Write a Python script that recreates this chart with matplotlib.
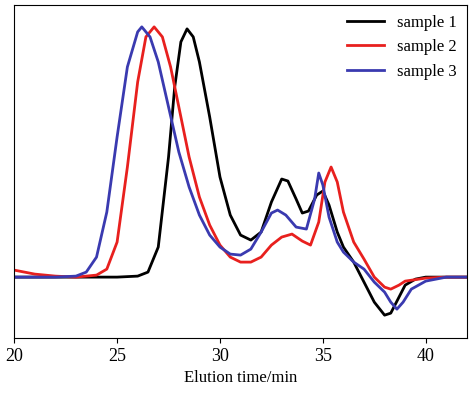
import matplotlib
matplotlib.use("Agg")
import matplotlib.pyplot as plt

x1 = [20,24,25,26,26.5,27,27.5,27.8,28.1,28.4,28.7,29,29.5,30,30.5,31,31.5,32,32.5,33,33.3,33.7,34,34.3,34.7,35,35.3,35.7,36,36.5,37,37.5,38,38.3,38.7,39,39.5,40,42]
y1 = [0,0,0,1,5,30,120,190,235,248,240,215,160,100,62,42,37,45,75,98,96,78,64,66,82,86,72,45,30,15,-5,-25,-38,-36,-20,-8,-2,0,0]
x2 = [20,21,22,23,24,24.5,25,25.5,26,26.4,26.8,27.2,27.6,28,28.5,29,29.5,30,30.5,31,31.5,32,32.5,33,33.5,34,34.4,34.8,35.1,35.4,35.7,36,36.5,37,37.5,38,38.3,38.7,39,40,41,42]
y2 = [7,3,1,0,2,8,35,110,195,240,250,240,210,170,120,80,52,32,20,15,15,20,32,40,43,36,32,55,95,110,95,65,35,18,0,-10,-12,-8,-4,-1,0,0]
x3 = [20,22,23,23.5,24,24.5,25,25.5,26,26.2,26.6,27,27.5,28,28.5,29,29.5,30,30.5,31,31.5,32,32.5,32.8,33.2,33.7,34.2,34.6,34.8,35,35.3,35.7,36,36.5,37,37.5,38,38.3,38.6,38.9,39.3,40,41,42]
y3 = [0,0,1,5,20,65,140,210,245,250,240,215,170,125,90,62,42,30,23,22,28,45,64,67,62,50,48,78,104,92,60,35,25,15,8,-5,-15,-25,-32,-25,-12,-4,0,0]
labels = ["sample 1", "sample 2", "sample 3"]
colors = ["black", "#e8201e", "#3a3ab0"]

plt.rcParams['font.family'] = ['Liberation Serif']
fig = plt.figure(figsize=(4.74, 4.05), dpi=100)
ax = fig.add_axes([0.03, 0.165, 0.955, 0.823])
for x, y, l, c in zip([x1, x2, x3], [y1, y2, y3], labels, colors):
    ax.plot(x, y, color=c, lw=2, label=l)
ax.set_xlim(20, 42)
ax.set_ylim(-61, 272)
ax.set_yticks([])
ax.set_xticks([20, 25, 30, 35, 40])
ax.tick_params(axis='x', labelsize=13, direction='out')
ax.set_xlabel("Elution time/min", fontsize=12)
ax.legend(loc='upper right', frameon=False, fontsize=12, handlelength=2.2, borderaxespad=0.2)
fig.savefig("out.png", dpi=100)
